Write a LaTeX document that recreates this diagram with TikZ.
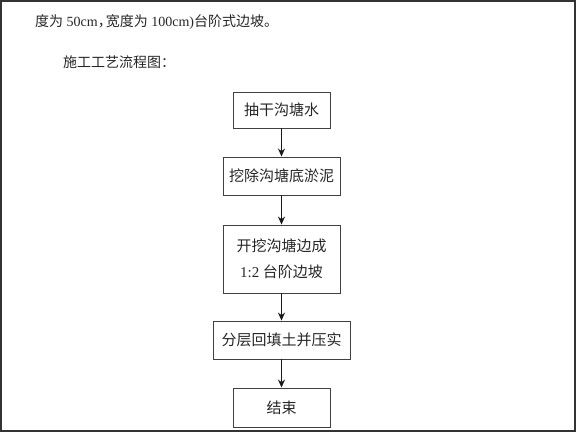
\documentclass[tikz,border=0pt]{standalone}
\usepackage{fontspec}
\setmainfont{Liberation Serif}
\newfontfamily\cjk{Noto Sans CJK SC}
\usetikzlibrary{arrows.meta}
\tikzset{
  stepbox/.style={draw=black!75, line width=0.9pt, inner sep=0pt, align=center,
    font=\fontsize{15}{26}\selectfont\cjk, text=black!85},
  plain/.style={anchor=west, inner sep=0pt, text=black!85},
  flow/.style={-{Stealth[length=8pt,width=7pt]}, line width=1.8pt, black!90}
}
\begin{document}
\begin{tikzpicture}[x=1pt,y=-1pt]
    \useasboundingbox (0,0) rectangle (576,432);
    \draw[black!80, line width=2pt] (1,1) rectangle (574.5,431);
    % text above the chart
    \node[plain, font=\fontsize{14}{18}\selectfont] (intro) at (35,22)
      {{\cjk 度为} 50cm{\cjk ，}\hspace{-6pt}{\cjk 宽度为} 100cm){\cjk 台阶式边坡。}};
    \node[plain, font=\fontsize{14}{18}\selectfont\cjk] (title) at (63,62)
      {施工工艺流程图：};
    % the steps
    \node[stepbox, minimum width=97pt, minimum height=36pt] (drain) at (281.5,110) {抽干沟塘水};
    \node[stepbox, minimum width=117pt, minimum height=38pt] (dredge) at (281.5,176) {挖除沟塘底淤泥};
    \node[stepbox, minimum width=117pt, minimum height=68pt] (slope) at (281.5,259)
      {开挖沟塘边成\\{\rmfamily 1:2} 台阶边坡};
    \node[stepbox, minimum width=137pt, minimum height=38pt] (fill) at (281.5,340) {分层回填土并压实};
    \node[stepbox, minimum width=97pt, minimum height=39pt] (done) at (281.5,407.5) {结束};
    \draw[flow] (drain) -- (dredge);
    \draw[flow] (dredge) -- (slope);
    \draw[flow] (slope) -- (fill);
    \draw[flow] (fill) -- (done);
  \end{tikzpicture}
\end{document}
